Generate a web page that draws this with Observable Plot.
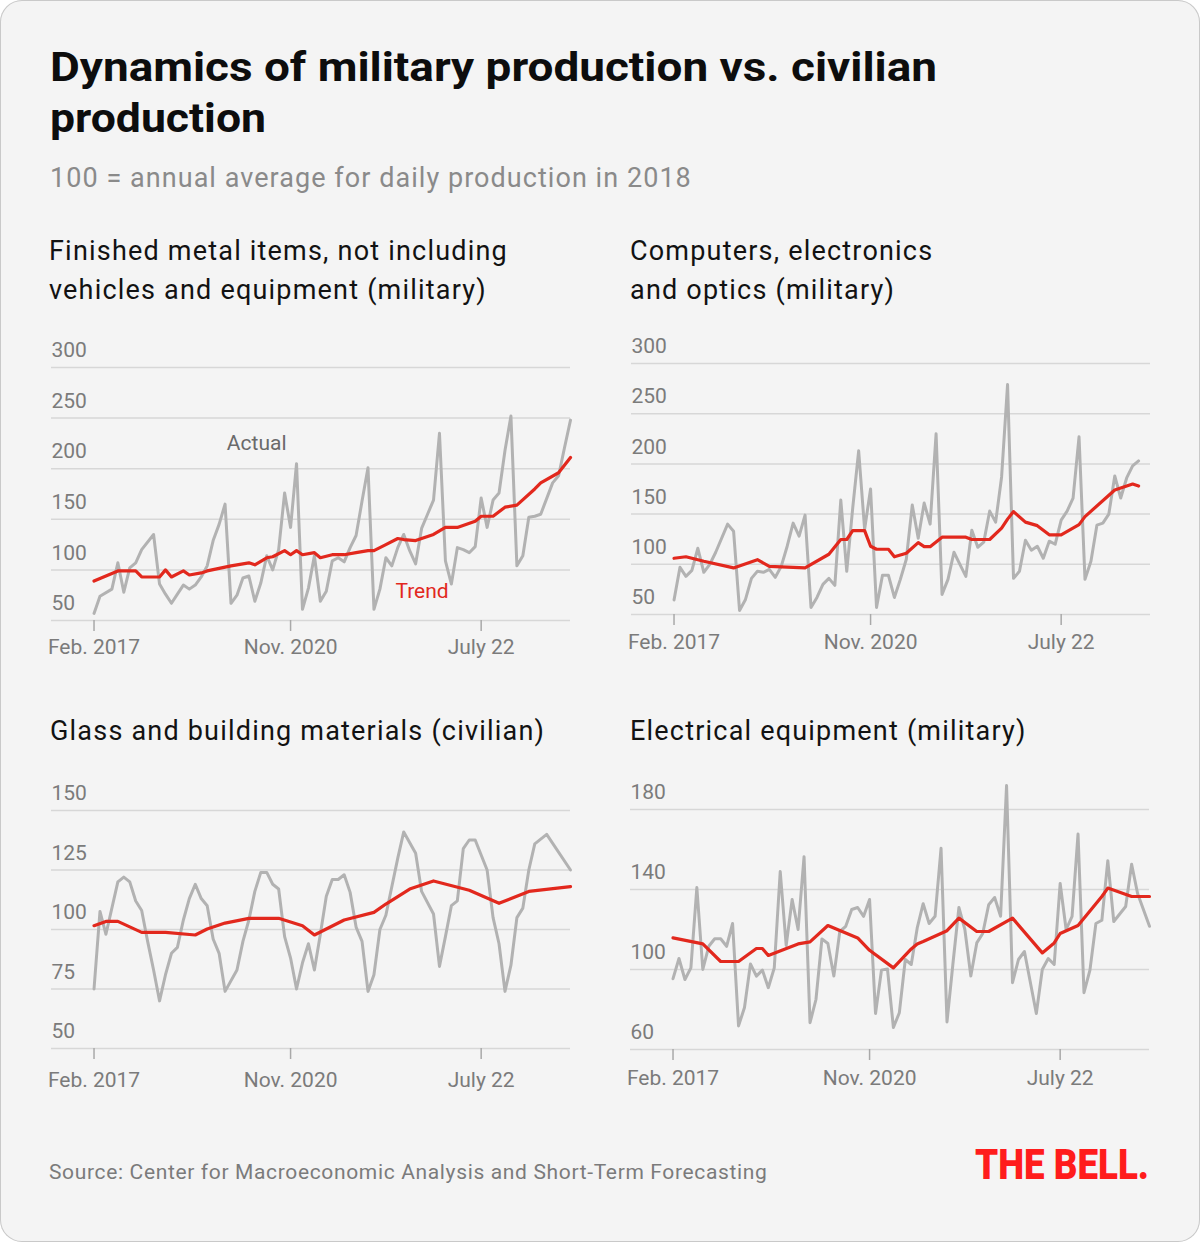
<!DOCTYPE html>
<html>
<head>
<meta charset="utf-8">
<script src="https://cdn.jsdelivr.net/npm/d3@7"></script>
<script src="https://cdn.jsdelivr.net/npm/@observablehq/plot@0.6"></script>
<style>
  body { margin: 0; background: #ffffff; }
  #card {
    position: relative; width: 1200px; height: 1242px; background: #f4f4f4;
    border-radius: 22px; box-shadow: inset 0 0 0 1px #c9c9c9; overflow: hidden;
    font-family: Roboto, "Noto Sans", sans-serif;
  }
  .abs { position: absolute; margin: 0; white-space: nowrap; }
  .ptitle { font-size: 27px; line-height: 39px; color: #121212; letter-spacing: 1.2px; }
  .sub { font-size: 27px; line-height: 30px; color: #8a8a8a; letter-spacing: 1.05px; }
  .src { font-size: 21px; line-height: 25px; color: #7b7b7b; letter-spacing: 0.65px; }
</style>
</head>
<body>
<div id="card">
  <svg class="abs" style="left:0;top:0" width="1200" height="150">
    <text x="50" y="81" font-family="Roboto" font-weight="700" font-size="41" fill="#0d0d0d"
          textLength="887" lengthAdjust="spacingAndGlyphs">Dynamics of military production vs. civilian</text>
    <text x="50" y="132" font-family="Roboto" font-weight="700" font-size="41" fill="#0d0d0d"
          textLength="216" lengthAdjust="spacingAndGlyphs">production</text>
  </svg>
  <div class="abs sub" style="left:50px;top:163px">100 = annual average for daily production in 2018</div>

  <div class="abs ptitle" style="left:49px;top:232px">Finished metal items, not including<br>vehicles and equipment (military)</div>
  <div class="abs ptitle" style="left:630px;top:232px">Computers, electronics<br>and optics (military)</div>
  <div class="abs ptitle" style="left:50px;top:712px">Glass and building materials (civilian)</div>
  <div class="abs ptitle" style="left:630px;top:712px">Electrical equipment (military)</div>

  <div id="p1" class="abs" style="left:51px;top:330px"></div>
  <div id="p2" class="abs" style="left:631px;top:326px"></div>
  <div id="p3" class="abs" style="left:51px;top:770px"></div>
  <div id="p4" class="abs" style="left:630px;top:770px"></div>

  <div class="abs src" style="left:49px;top:1160px">Source: Center for Macroeconomic Analysis and Short-Term Forecasting</div>
  <svg class="abs" style="left:960px;top:1130px" width="220" height="70">
    <text x="15" y="49" font-family="Roboto" font-weight="900" font-size="43" fill="#ff1c1c"
          textLength="174" lengthAdjust="spacingAndGlyphs">THE BELL.</text>
  </svg>
</div>

<script>
// Month index 0 = Feb. 2017; one step per month.
const xTicks = [0, 33, 65];
const xTickLabels = ["Feb. 2017", "Nov. 2020", "July 22"];

// Finished metal items (military): [month, index value]
const metalActual = [[0,57],[1,74],[3,81],[4,107],[5,78],[6,102],[7,107],[8,120],[10,135],[11,86],[12,76],[13,67],[14,76],[15,85],[16,81],[17,85],[18,93],[19,104],[20,129],[21,145],[22,165],[23,67],[24,75],[25,92],[26,94],[27,69],[28,87],[29,114],[30,100],[31,120],[32,176],[33,142],[34,205],[35,61],[36,82],[37,114],[38,69],[39,79],[40,109],[41,112],[42,108],[43,122],[44,134],[45,168],[46,201],[47,61],[48,81],[49,112],[50,104],[51,122],[52,135],[53,119],[54,106],[55,141],[56,155],[57,169],[58,235],[59,109],[60,86],[61,122],[62,120],[63,117],[64,123],[65,171],[66,142],[67,169],[68,176],[69,218],[70,252],[71,104],[72,114],[73,152],[74,153],[75,155],[77,186],[78,193],[79,221],[80,248]];
const metalTrend = [[0,89],[4,99],[7,99],[8,93],[11,93],[12,100],[13,93],[15,99],[16,95],[18,97],[19,99],[23,104],[26,107],[27,105],[29,112],[30,113],[32,119],[33,115],[34,119],[35,115],[37,117],[38,112],[40,115],[42,115],[44,117],[46,119],[47,119],[49,125],[51,131],[52,130],[54,129],[57,135],[59,142],[61,142],[64,148],[65,153],[67,153],[69,162],[71,164],[74,180],[75,186],[78,196],[80,211]];

// Computers, electronics and optics (military)
const compActual = [[0,64.5],[1,97],[2,88],[3,94],[4,116],[5,92],[6,100],[7,112],[9,140],[10,133],[11,54],[12,65],[13,86],[14,93],[15,92],[16,95],[17,87],[18,98],[19,118],[20,141],[21,128],[22,149],[23,57],[24,67],[25,80],[26,86],[27,79],[28,164],[29,93],[30,156],[31,213],[32,135],[33,175],[34,57],[35,89],[36,89],[37,67],[38,85],[39,105],[40,159],[41,126],[42,161],[43,140],[44,230],[45,70],[46,85],[47,112],[48,100],[49,88],[50,134],[51,117],[52,122],[53,153],[54,142],[55,187],[56,279],[57,86],[58,93],[59,124],[60,114],[61,118],[62,106],[63,123],[64,120],[65,144],[66,153],[67,166],[68,227],[69,85],[70,103],[71,139],[72,141],[73,150],[74,188],[75,166],[76,186],[77,198],[78,203]];
const compTrend = [[0,106],[2,107.5],[5,103],[10,96.4],[14,104.6],[16,98],[22,96.4],[26,110],[28,124.7],[29,124.7],[30,133.6],[32,133.6],[33,118],[34,115],[36,115],[37,107.5],[39,111],[41,121.6],[42,117.6],[43,117.6],[45,127],[49,127],[50,124.7],[53,124.7],[55,136],[56,145],[57,152.5],[59,142],[61,138.5],[63,129.4],[65,129.4],[68,139.5],[69,147.5],[74,174],[77,180],[78,178]];

// Glass and building materials (civilian)
const glassActual = [[0,75],[1,107.6],[2,98],[4,120],[5,122],[6,120],[7,112],[8,108],[9,95],[10,83],[11,70],[12,81],[13,90],[14,92.5],[15,104],[16,113],[17,119],[18,113],[19,110],[20,96],[21,90],[22,74],[24,83],[25,95],[26,104],[27,116],[28,124],[29,124],[30,119],[31,117],[32,97],[33,88],[34,75],[35,86],[36,94],[37,83],[38,98],[39,114],[40,121],[41,121],[42,123],[43,115.6],[44,101],[45,95],[46,74],[47,81],[48,100],[49,106],[51,130],[52,141],[54,132],[55,116],[57,106.5],[58,84.5],[59,97],[60,110],[61,112],[62,134],[63,137.6],[64,137.6],[66,125],[67,105],[68,94],[69,74],[70,85],[71,105],[72,109],[73,125],[74,136],[76,140],[80,125]];
const glassTrend = [[0,101.6],[2,103.4],[4,103.4],[8,98.8],[12,98.8],[17,97.7],[19,100.2],[22,102.7],[26,104.7],[31,104.7],[35,101.6],[37,97.7],[42,104],[47,107.2],[49,110.7],[53,117],[57,120.4],[63,116.5],[68,111],[73,116],[80,118]];

// Electrical equipment (military)
const elecActual = [[0,95.4],[1,105.5],[2,95],[3,100.8],[4,141],[5,100],[6,111.6],[7,115.4],[8,115.4],[9,111.6],[10,123],[11,71.8],[12,81],[13,102.8],[14,96.7],[15,99.7],[16,90.9],[17,100.8],[18,149],[19,112],[20,135],[21,120],[22,156.4],[23,73.4],[24,85],[25,115.3],[26,113],[27,96.7],[28,119],[29,121.6],[30,130],[31,131],[32,126.6],[33,135],[34,78],[35,99.7],[36,100.3],[37,71],[38,78.4],[39,105],[40,102.5],[41,120.8],[42,132.9],[43,123],[44,126.6],[45,160.6],[46,73.8],[47,103],[48,131],[49,120],[50,96.7],[51,113.3],[52,118],[53,132.4],[54,136],[55,126.6],[56,192],[57,93.4],[58,105],[59,109],[61,78],[62,100],[63,105.5],[64,102.5],[65,143],[66,120],[67,126.6],[68,167.7],[69,88.4],[70,99.7],[71,123],[72,124.6],[73,154.4],[74,124],[76,131.5],[77,152.6],[78,138],[80,121.6]];
const elecTrend = [[0,115.8],[5,112.8],[8,104],[11,104],[14,110.5],[15,110.5],[16,107],[21,112.8],[23,113.8],[26,122],[31,115.8],[33,109.6],[37,100.8],[40,110.3],[41,112.8],[42,114],[46,119.4],[48,125.7],[51,119],[53,119],[57,125.7],[62,108.3],[64,113.3],[65,118],[68,122],[72,136.5],[73,140.7],[77,136.5],[80,136.5]];

const GRAY = "#b2b2b2";
const RED = "#e2281d";
const LABEL = "#7b7b7b";

function panel({actual, trend, yDomain, yTicks, frameH, marginTop, tickPadding, extra = []}) {
  const marginBottom = 50;
  return Plot.plot({
    width: 519,
    height: marginTop + frameH + marginBottom,
    marginLeft: 0, marginRight: 0, marginTop, marginBottom,
    style: {background: "transparent", fontFamily: "Roboto, sans-serif", overflow: "visible"},
    x: {domain: [-7.14, 80]},
    y: {domain: yDomain},
    marks: [
      Plot.gridY(yTicks, {stroke: "#d7d7d7", strokeOpacity: 1, strokeWidth: 1.5}),
      Plot.axisY(yTicks, {tickSize: 0, tickPadding: 0, textAnchor: "start", dy: -17,
        fontSize: 21, fill: LABEL, label: null}),
      Plot.axisX(xTicks, {tickSize: 11, tickPadding, stroke: "#a9a9a9", strokeWidth: 1.5,
        fill: LABEL, fontSize: 21, label: null,
        tickFormat: d => xTickLabels[xTicks.indexOf(d)]}),
      Plot.line(actual, {x: d => d[0], y: d => d[1], stroke: GRAY, strokeWidth: 3}),
      Plot.line(trend, {x: d => d[0], y: d => d[1], stroke: RED, strokeWidth: 3.2}),
      ...extra
    ]
  });
}

// Series labels for the first panel
const seriesLabels = [
  {m: 22.3, v: 225, text: "Actual", color: "#6a6a6a"},
  {m: 50.6, v: 79, text: "Trend", color: RED}
];

document.getElementById("p1").append(panel({
  actual: metalActual, trend: metalTrend, yDomain: [50, 300], yTicks: [50, 100, 150, 200, 250, 300],
  frameH: 253, marginTop: 37, tickPadding: 8,
  extra: [Plot.text(seriesLabels, {x: "m", y: "v", text: "text", fill: "color",
    textAnchor: "start", fontSize: 21})]
}));
document.getElementById("p2").append(panel({
  actual: compActual, trend: compTrend, yDomain: [50, 300], yTicks: [50, 100, 150, 200, 250, 300],
  frameH: 251, marginTop: 37, tickPadding: 9
}));
document.getElementById("p3").append(panel({
  actual: glassActual, trend: glassTrend, yDomain: [50, 150], yTicks: [50, 75, 100, 125, 150],
  frameH: 238, marginTop: 40, tickPadding: 13
}));
document.getElementById("p4").append(panel({
  actual: elecActual, trend: elecTrend, yDomain: [60, 180], yTicks: [60, 100, 140, 180],
  frameH: 240, marginTop: 39, tickPadding: 10
}));
</script>
</body>
</html>
